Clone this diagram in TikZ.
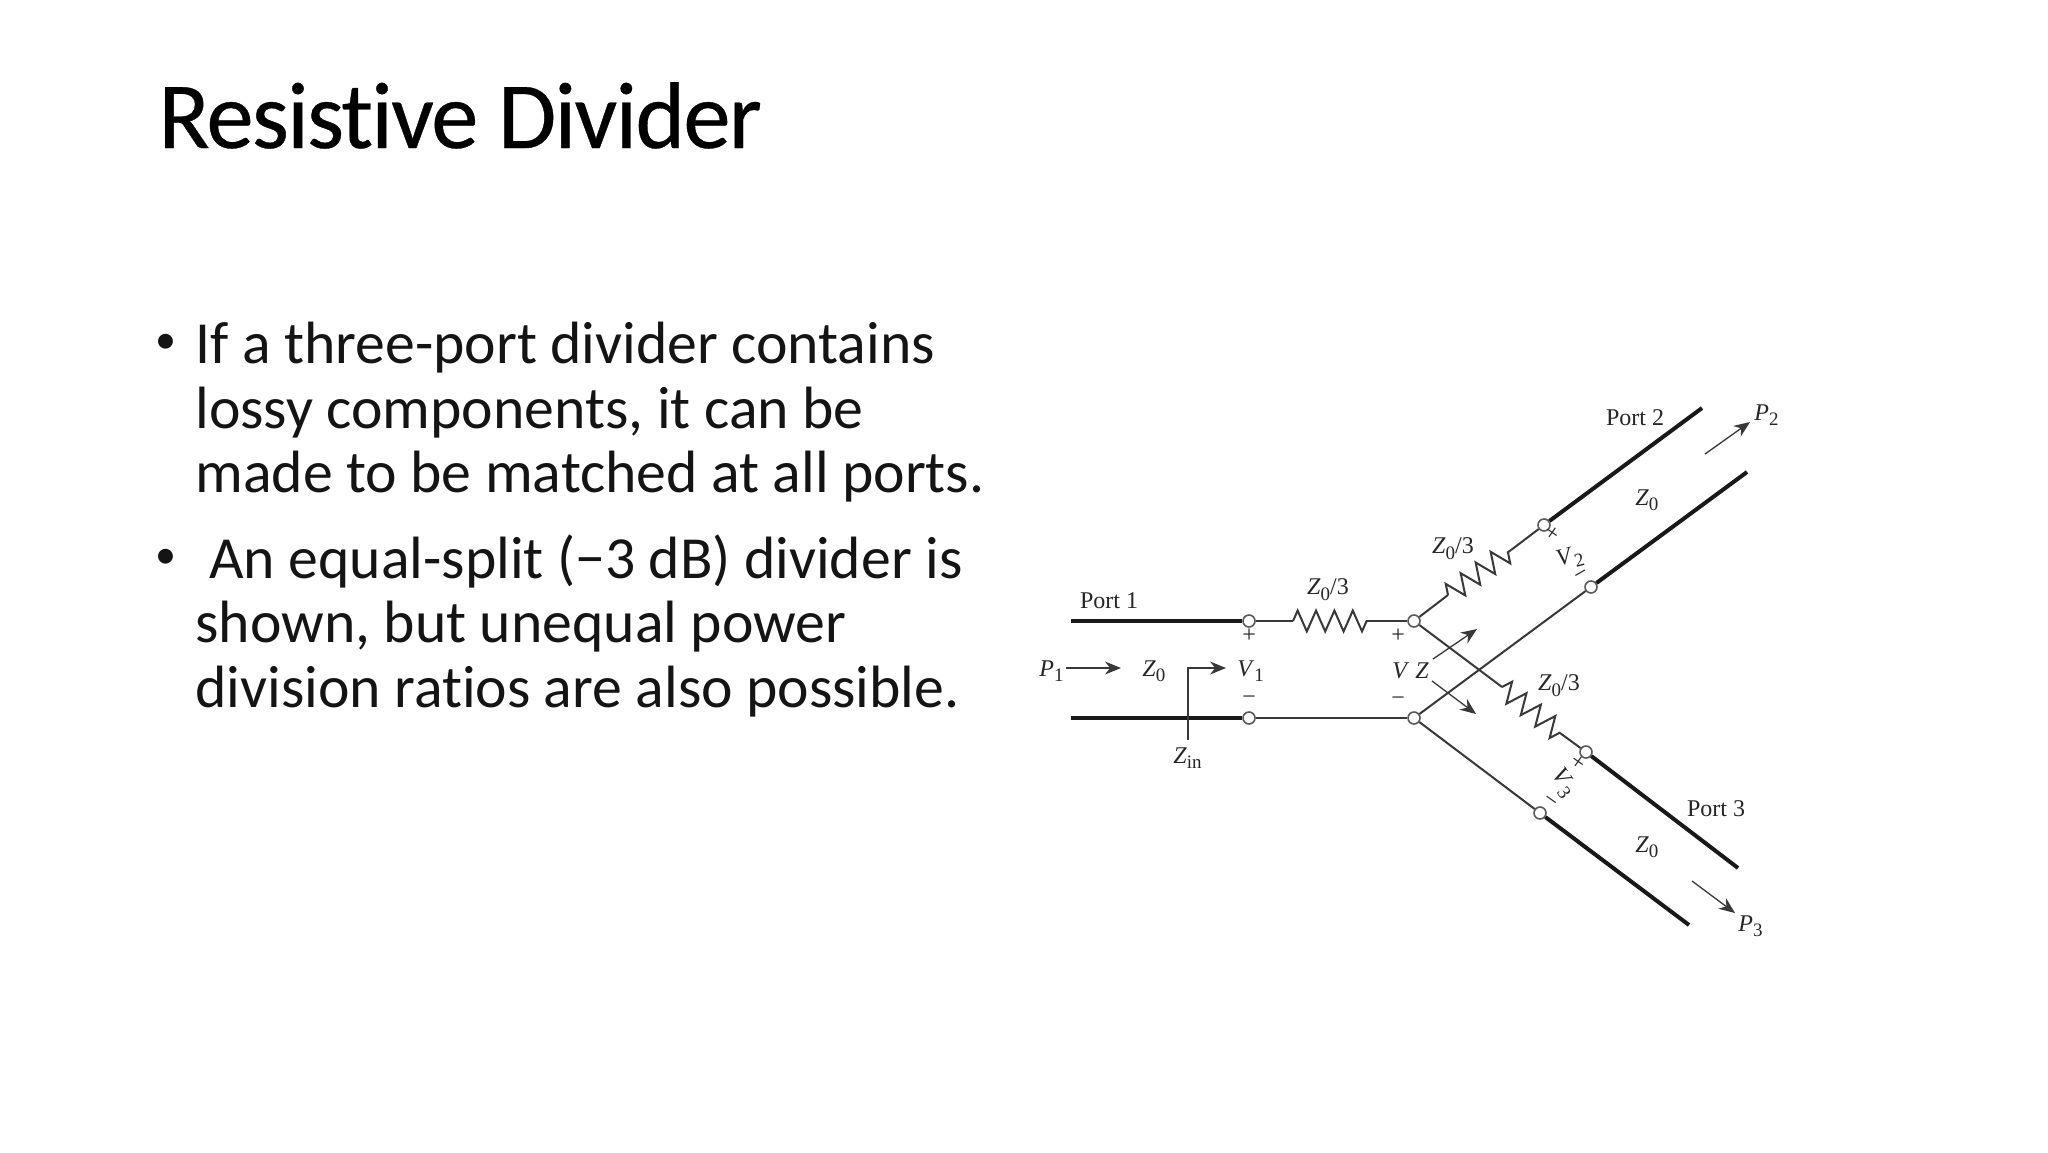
\documentclass[tikz,border=0pt]{standalone}
\usepackage{fontspec}
\setmainfont{Carlito}[Ligatures=NoCommon]
\newfontfamily\titlefont{Carlito}[Ligatures=NoCommon,LetterSpace=-1.9,FakeBold=0.35]
\newfontfamily\figfont{Liberation Serif}
\usetikzlibrary{arrows.meta,decorations.pathmorphing}
\newcommand{\symb}[2]{\textit{#1}\raisebox{-0.24em}{\fontsize{9.5}{10}\selectfont #2}}
\tikzset{
  titletext/.style={anchor=base west,inner sep=0pt,text=black,font=\titlefont\fontsize{47.4}{50}\selectfont},
  bodytext/.style={anchor=base west,inner sep=0pt,text=black!92,font=\fontsize{29.85}{32}\selectfont},
  bullettext/.style={anchor=center,inner sep=0pt,text=black!92,font=\fontsize{21}{24}\selectfont},
  figlabel/.style={inner sep=0pt,text=black!85,font=\figfont\fontsize{12}{14}\selectfont},
  figbase/.style={figlabel,anchor=base west},
  thinwire/.style={draw=black!78,line width=1pt},
  thickwire/.style={draw=black!90,line width=2pt},
  reswire/.style={thinwire,decorate,decoration={zigzag,segment length=9.2pt,amplitude=5.2pt}},
  flow/.style={draw=black!78,line width=0.65pt,-{Stealth[length=8pt,width=6.5pt]}},
  port/.style={circle,draw=black!65,fill=white,line width=0.8pt,minimum size=6pt,inner sep=0pt},
  sign/.style={figlabel}
}
\begin{document}
\begin{tikzpicture}[x=0.5pt,y=-0.5pt]
\useasboundingbox (0,0) rectangle (2048,1152);
\fill[white] (0,0) rectangle (2048,1152);
% text
\node[titletext] (title) at (158,148) {Resistive Divider};
\node[bullettext] (bulletA) at (166,344) {•};
\node[bodytext] (b1) at (195,363.5) {If a three-port divider contains};
\node[bodytext] (b2) at (195,428.5) {lossy components, it can be};
\node[bodytext] (b3) at (195,492.5) {made to be matched at all ports.};
\node[bullettext] (bulletB) at (166,559) {•};
\node[bodytext] (b4) at (209,578.5) {An equal-split (−3 dB) divider is};
\node[bodytext] (b5) at (195,642.5) {shown, but unequal power};
\node[bodytext] (b6) at (195,707.5) {division ratios are also possible.};
% free ends and resistor ends
\coordinate (p1a) at (1071,621);
\coordinate (p1b) at (1071,718);
\coordinate (p2a) at (1702,408);
\coordinate (p2b) at (1747,472);
\coordinate (p3a) at (1738,868);
\coordinate (p3b) at (1689,925);
\coordinate (r1s) at (1293,621);
\coordinate (r1e) at (1368,621);
\coordinate (r2s) at (1448,595);
\coordinate (r2e) at (1511,550);
\coordinate (r3s) at (1502,687);
\coordinate (r3e) at (1560,733);
\coordinate (zinb) at (1188,740);
\coordinate (zinc) at (1188,668);
\coordinate (zine) at (1226,668);
% ports
\node[port] (n1a) at (1249,621) {};
\node[port] (n1b) at (1249,718) {};
\node[port] (j1) at (1414,621) {};
\node[port] (j2) at (1414,718) {};
\node[port] (n2a) at (1544,525) {};
\node[port] (n2b) at (1591,587) {};
\node[port] (n3a) at (1586,752) {};
\node[port] (n3b) at (1540,813) {};
% lines
\draw[thickwire] (p1a) -- (n1a);
\draw[thickwire] (p1b) -- (n1b);
\draw[thickwire] (n2a) -- (p2a);
\draw[thickwire] (n2b) -- (p2b);
\draw[thickwire] (n3a) -- (p3a);
\draw[thickwire] (n3b) -- (p3b);
\draw[thinwire] (n1a) -- (r1s);
\draw[reswire] (r1s) -- (r1e);
\draw[thinwire] (r1e) -- (j1);
\draw[thinwire] (j1) -- (r2s);
\draw[reswire] (r2s) -- (r2e);
\draw[thinwire] (r2e) -- (n2a);
\draw[thinwire] (j1) -- (r3s);
\draw[reswire] (r3s) -- (r3e);
\draw[thinwire] (r3e) -- (n3a);
\draw[thinwire] (n1b) -- (j2);
\draw[thinwire] (j2) -- (n2b);
\draw[thinwire] (j2) -- (n3b);
% arrows
\coordinate (a1s) at (1066,668); \coordinate (a1e) at (1121,668);
\coordinate (a2s) at (1433,659); \coordinate (a2e) at (1477,629);
\coordinate (a3s) at (1432,681); \coordinate (a3e) at (1476,714);
\coordinate (a4s) at (1705,454); \coordinate (a4e) at (1750,422);
\coordinate (a5s) at (1692,881); \coordinate (a5e) at (1735,913);
\draw[flow] (a1s) -- (a1e);
\draw[flow] (a2s) -- (a2e);
\draw[flow] (a3s) -- (a3e);
\draw[flow] (a4s) -- (a4e);
\draw[flow] (a5s) -- (a5e);
\draw[flow] (zinb) -- (zinc) -- (zine);
% labels
\node[figlabel] (port1) at (1109,601) {Port 1};
\node[figlabel] (port2) at (1635,418) {Port 2};
\node[figlabel] (port3) at (1716,809) {Port 3};
\node[figlabel] (r1l) at (1328,590) {\symb{Z}{0}/3};
\node[figlabel] (r2l) at (1453,549) {\symb{Z}{0}/3};
\node[figlabel] (r3l) at (1559,686) {\symb{Z}{0}/3};
\node[figbase] (P1) at (1039,676) {\symb{P}{1}};
\node[figbase] (Z01) at (1142,676) {\symb{Z}{0}};
\node[figbase] (Zin) at (1173,763) {\symb{Z}{in}};
\node[figbase] (V1) at (1237,676) {\symb{V}{1}};
\node[figbase] (Vm) at (1392,678) {\textit{V}};
\node[figbase] (Zm) at (1415,678) {\textit{Z}};
\node[figbase] (P2) at (1754,420) {\symb{P}{2}};
\node[figbase] (Z02) at (1635,505) {\symb{Z}{0}};
\node[figbase] (P3) at (1738,931) {\symb{P}{3}};
\node[figbase] (Z03) at (1635,852) {\symb{Z}{0}};
\node[sign] (s1) at (1249,636) {+};
\node[sign] (s2) at (1249,700) {−};
\node[sign] (s3) at (1398,636) {+};
\node[sign] (s4) at (1398,701) {−};
\node[sign,rotate=-35] (s5) at (1552,534) {+};
\node[sign,rotate=30] (s6) at (1582,576) {−};
\node[sign,rotate=-35] (s7) at (1578,763) {+};
\node[sign,rotate=-35] (s8) at (1549,803) {−};
\node[figlabel,rotate=15] (V2) at (1570,558) {\symb{V}{2}};
\node[figlabel,rotate=-55] (V3) at (1563,783) {\symb{V}{3}};
\end{tikzpicture}
\end{document}
